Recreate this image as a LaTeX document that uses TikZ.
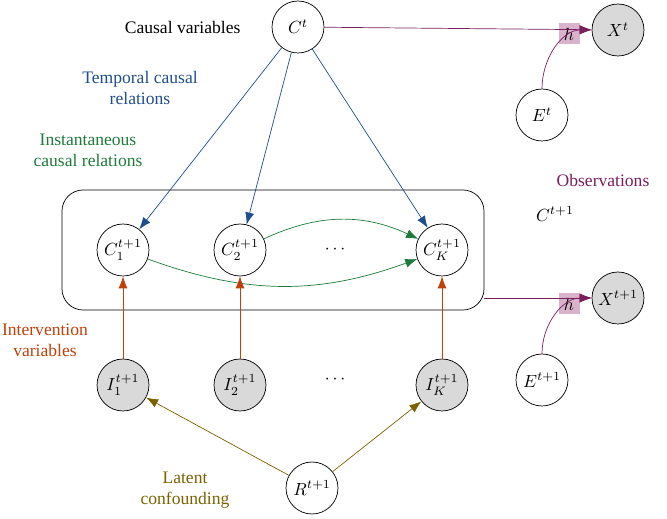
\documentclass[tikz,border=0pt]{standalone}
\usepackage{fontspec}
\setmainfont{Liberation Serif}
\usetikzlibrary{arrows.meta,positioning}
\definecolor{tblue}{HTML}{1F4E8C}
\definecolor{tgreen}{HTML}{1E7A3A}
\definecolor{torange}{HTML}{C0400A}
\definecolor{tolive}{HTML}{7A6200}
\definecolor{tpurple}{HTML}{7A1E5E}
\definecolor{hbox}{HTML}{D9B3CC}
\tikzset{
  var/.style={circle,draw,minimum size=1.04cm,inner sep=0pt},
  obs/.style={var,fill=gray!30},
  arr/.style={-{Latex[length=2.4mm,width=1.8mm]},thin},
  hnode/.style={fill=hbox,minimum width=0.42cm,minimum height=0.42cm,inner sep=0pt}
}
\begin{document}
\begin{tikzpicture}[x=0.02cm,y=-0.02cm]
  \useasboundingbox (0,0) rectangle (667,519);
%causal variables at t
  \node[var] (ct) at (298,27) {$C^t$};
  \node[left=0.5cm of ct] (ctlab) {Causal variables};
  \node[obs] (xt) at (618,30) {$X^t$};
  \node[var] (et) at (542,115) {$E^t$};
  \node[hnode] (ht) at (569,34) {$h$};
%block at t+1
  \draw[rounded corners=12pt] (62,190) rectangle (484,310);
  \node (boxlab) at (555,214) {$C^{t+1}$};
  \coordinate (boxr) at (484,298);
  \node[var] (c1) at (123,250) {$C_1^{t+1}$};
  \node[var] (c2) at (240,250) {$C_2^{t+1}$};
  \node (cdots) at (335,250) {$\cdots$};
  \node[var] (ck) at (442,250) {$C_K^{t+1}$};
  \node[obs] (xt1) at (618,298) {$X^{t+1}$};
  \node[var] (et1) at (542,380) {$E^{t+1}$};
  \node[hnode] (ht1) at (569,304) {$h$};
%interventions
  \node[obs] (i1) at (123,385) {$I_1^{t+1}$};
  \node[obs] (i2) at (240,385) {$I_2^{t+1}$};
  \node (idots) at (335,380) {$\cdots$};
  \node[obs] (ik) at (442,385) {$I_K^{t+1}$};
  \node[var] (r) at (312,488) {$R^{t+1}$};
%labels
  \node[tblue,align=center] (tlab) at (140,88) {Temporal causal\\relations};
  \node[tgreen,align=center] (ilab) at (88,150) {Instantaneous\\causal relations};
  \node[tpurple] (olab) at (603,180) {Observations};
  \node[torange,align=center] (vlab) at (45,340) {Intervention\\variables};
  \node[tolive,align=center] (llab) at (185,490) {Latent\\confounding};
%edges
  \foreach \c in {c1,c2,ck}
    \draw[arr,tblue] (ct) -- (\c);
  \draw[arr,tgreen] (c2) to[bend left=25] (ck);
  \draw[arr,tgreen] (c1) to[bend right=20] (ck);
  \draw[arr,torange] (i1) -- (c1);
  \draw[arr,torange] (i2) -- (c2);
  \draw[arr,torange] (ik) -- (ck);
  \draw[arr,tolive] (r) -- (i1);
  \draw[arr,tolive] (r) -- (ik);
  \draw[arr,tpurple] (ct) -- (xt);
  \draw[arr,tpurple] (et) to[out=90,in=180] (xt.west);
  \draw[arr,tpurple] (boxr) -- (xt1);
  \draw[arr,tpurple] (et1) to[out=90,in=180] (xt1.west);
\end{tikzpicture}
\end{document}
